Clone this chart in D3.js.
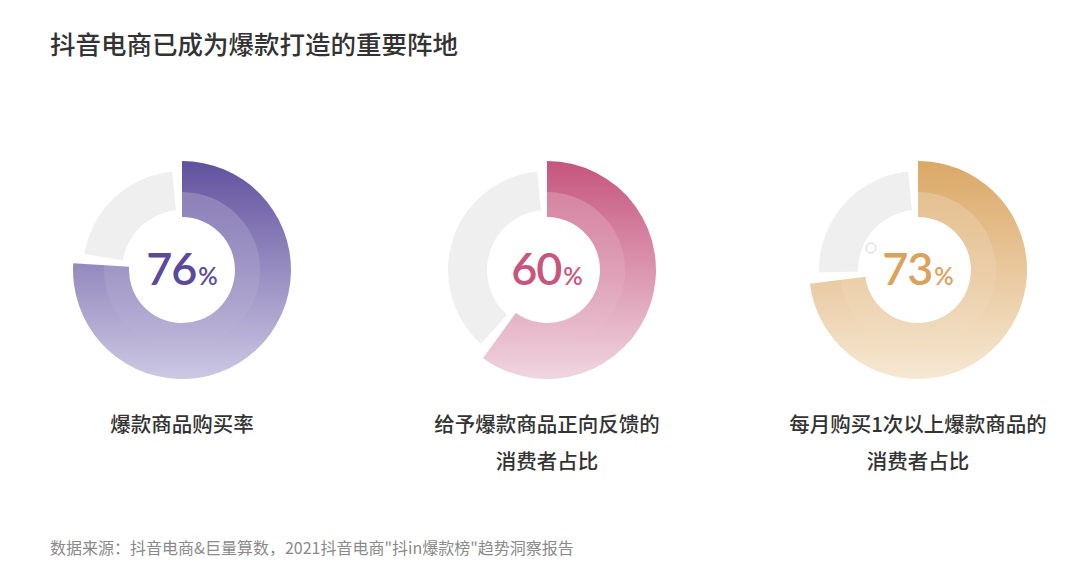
<!DOCTYPE html>
<html><head><meta charset="utf-8">
<script src="https://cdn.jsdelivr.net/npm/d3@7/dist/d3.min.js"></script>
<style>html,body{margin:0;padding:0;background:#fff;}svg{display:block;}</style>
</head><body>
<svg id="chart" width="1080" height="588"></svg>
<script>
const title = "抖音电商已成为爆款打造的重要阵地";
const source = "数据来源：抖音电商&巨量算数，2021抖音电商\"抖in爆款榜\"趋势洞察报告";
const categories = ["爆款商品购买率", "给予爆款商品正向反馈的|消费者占比", "每月购买1次以上爆款商品的|消费者占比"];
const values = [76, 60, 73];
const topColors = ["#61519e", "#c6557d", "#dba867"];
const bottomColors = ["#cdc8e3", "#f0d6e0", "#f6e8d4"];
const textColors = ["#5a4a99", "#c8557e", "#dba25c"];

const svg = d3.select("#chart");
const cx = d3.scaleOrdinal().domain(d3.range(values.length)).range([182, 547, 918]);
const cy = 270;
const angle = d3.scaleLinear().domain([0, 100]).range([0, 2 * Math.PI]);

const rOut = 109, rIn = 53, gOut = 99, gIn = 60, gapPx = 8;

const defs = svg.append("defs");
values.forEach((v, i) => {
  const g = defs.append("linearGradient").attr("id", "grad" + i)
    .attr("gradientUnits", "userSpaceOnUse")
    .attr("x1", 0).attr("x2", 0).attr("y1", -rOut).attr("y2", rOut);
  g.append("stop").attr("offset", "0%").attr("stop-color", topColors[i]);
  g.append("stop").attr("offset", "100%").attr("stop-color", bottomColors[i]);
});
const hl = defs.append("linearGradient").attr("id", "hl")
  .attr("gradientUnits", "userSpaceOnUse")
  .attr("x1", 0).attr("x2", 0).attr("y1", -80).attr("y2", 80);
hl.append("stop").attr("offset", "0%").attr("stop-color", "#fff").attr("stop-opacity", 0.2);
hl.append("stop").attr("offset", "100%").attr("stop-color", "#fff").attr("stop-opacity", 0);

svg.append("text").attr("x", 50).attr("y", 54)
  .attr("font-family", "'Noto Sans CJK SC'").attr("font-size", 25.5).attr("font-weight", 500)
  .attr("fill", "#333").text(title);

svg.append("circle").attr("cx", 871).attr("cy", 248).attr("r", 5)
  .attr("fill", "none").attr("stroke", "#cfcfe3").attr("stroke-width", 1);

values.forEach((v, i) => {
  const g = svg.append("g").attr("transform", `translate(${cx(i)},${cy})`);
  const end = angle(v);
  const gapA = gapPx / ((gOut + gIn) / 2);
  g.append("path").attr("d", d3.arc()({innerRadius: gIn, outerRadius: gOut, startAngle: end + gapA, endAngle: 2 * Math.PI - gapA}))
    .attr("fill", "#efefef");
  g.append("path").attr("d", d3.arc()({innerRadius: rIn, outerRadius: rOut, startAngle: 0, endAngle: end}))
    .attr("fill", `url(#grad${i})`);
  g.append("path").attr("d", d3.arc()({innerRadius: rIn, outerRadius: 78, startAngle: 0, endAngle: end}))
    .attr("fill", "url(#hl)");
  const t = g.append("text").attr("x", 0).attr("y", 15).attr("text-anchor", "middle")
    .attr("font-family", "Lato").attr("font-weight", 600).attr("fill", textColors[i]);
  t.append("tspan").attr("font-size", 45).attr("letter-spacing", -1).text(v);
  t.append("tspan").attr("font-size", 24).attr("dx", 2).text("%");
  const lines = categories[i].split("|");
  const lt = svg.append("text").attr("text-anchor", "middle")
    .attr("font-family", "'Noto Sans CJK SC'").attr("font-size", 20.5).attr("font-weight", 500).attr("fill", "#333");
  lines.forEach((ln, k) => {
    lt.append("tspan").attr("x", cx(i)).attr("y", 432 + k * 37).text(ln);
  });
});

svg.append("text").attr("x", 50).attr("y", 554)
  .attr("font-family", "'Noto Sans CJK SC'").attr("font-size", 16).attr("fill", "#8a8a8a").text(source);
</script>
</body></html>
